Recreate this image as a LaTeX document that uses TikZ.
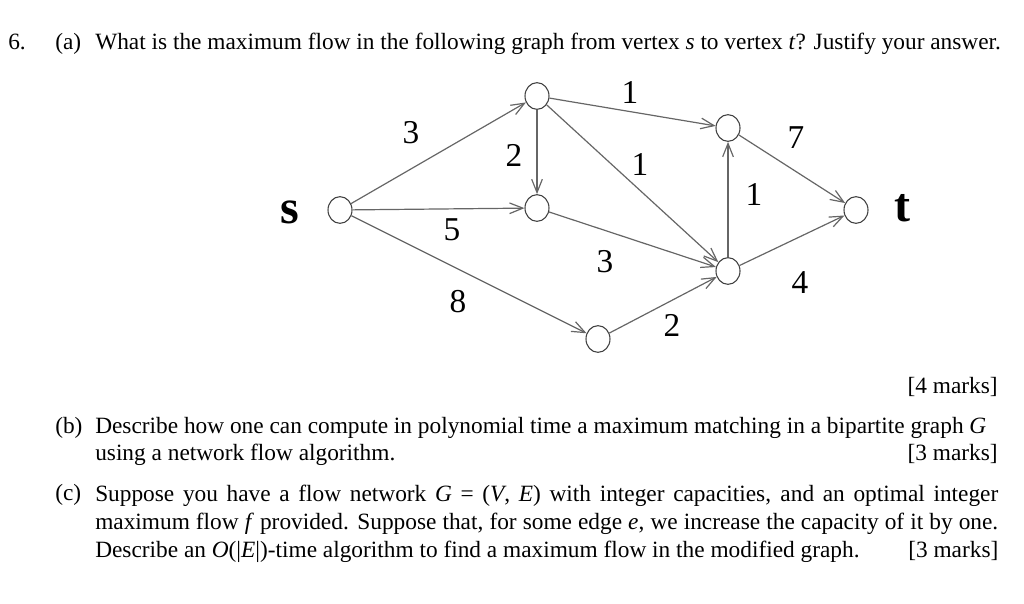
\documentclass[tikz,border=0pt]{standalone}
\usepackage{fontspec}
\setmainfont{Liberation Serif}
\usetikzlibrary{arrows.meta,shapes.geometric}
\newcommand{\mi}[1]{\textit{#1}}
\begin{document}
\begin{tikzpicture}[x=0.75pt,y=-0.75pt,
  v/.style={draw=black!75,ellipse,minimum width=18pt,minimum height=20pt,inner sep=0pt,fill=white,line width=0.8pt},
  e/.style={draw=black!60,line width=0.9pt,-{Straight Barb[length=10pt,width=8pt]}},
  w/.style={font=\fontsize{25}{25}\selectfont},
  txt/.style={anchor=base west,inner sep=0pt,font=\fontsize{17.5}{20}\selectfont},
  mk/.style={anchor=base east,inner sep=0pt,font=\fontsize{17.5}{20}\selectfont}]
\useasboundingbox (0,0) rectangle (1024,603);
\node[v] (s) at (340,210) {};
\node[v] (a) at (537,96) {};
\node[v] (b) at (537,208) {};
\node[v] (c) at (728,128) {};
\node[v] (d) at (728,271) {};
\node[v] (f) at (598,339) {};
\node[v] (t) at (856,210) {};
\node[font=\fontsize{36}{36}\selectfont\bfseries] (sl) at (290,212) {s};
\node[font=\fontsize{36}{36}\selectfont\bfseries] (tl) at (902,208) {t};
\draw[e] (s) -- (a);
\draw[e] (s) -- (b);
\draw[e] (s) -- (f);
\draw[e] (a) -- (b);
\draw[e] (a) -- (c);
\draw[e] (a) -- (d);
\draw[e] (b) -- (d);
\draw[e] (f) -- (d);
\draw[e] (d) -- (c);
\draw[e] (c) -- (t);
\draw[e] (d) -- (t);
\node[w] (l1) at (411,133) {3};
\node[w] (l2) at (452,230) {5};
\node[w] (l3) at (458,302) {8};
\node[w] (l4) at (514,155) {2};
\node[w] (l5) at (630,92) {1};
\node[w] (l6) at (640,164) {1};
\node[w] (l7) at (605,262) {3};
\node[w] (l8) at (672,325) {2};
\node[w] (l9) at (754,194) {1};
\node[w] (l10) at (796,138) {7};
\node[w] (l11) at (800,283) {4};
\node[txt] (q6) at (8,49) {6.};
\node[txt] (qa) at (55,49) {(a)};
\node[txt] (qa2) at (95,49) {What is the maximum flow in the following graph from vertex \mi{s} to vertex \mi{t}? Justify your answer.};
\node[mk] (m4) at (998,393) {[4 marks]};
\node[txt] (qb) at (55,433) {(b)};
\node[txt] (qb1) at (95,433) {Describe how one can compute in polynomial time a maximum matching in a bipartite graph \mi{G}};
\node[txt] (qb2) at (95,460) {using a network flow algorithm.};
\node[mk] (m3) at (998,460) {[3 marks]};
\node[txt] (qc) at (55,500) {(c)};
\node[anchor=north west,inner sep=0pt,text width=903*0.75pt,align=justify,font=\fontsize{17.5}{21}\selectfont] (qct) at (95,485)
 {Suppose you have a flow network \mi{G} = (\mi{V}, \mi{E}) with integer capacities, and an optimal integer\linebreak
  maximum flow \mi{f} provided. Suppose that, for some edge \mi{e}, we increase the capacity of it by one.\linebreak
  Describe an \mi{O}(|\mi{E}|)-time algorithm to find a maximum flow in the modified graph.\hfill[3 marks]};
\end{tikzpicture}
\end{document}
